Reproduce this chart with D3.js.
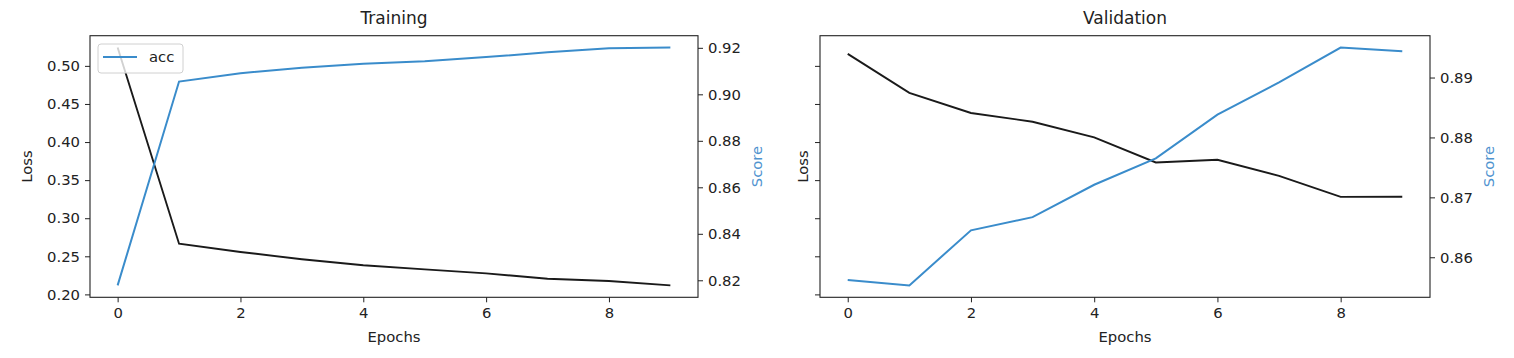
<!DOCTYPE html>
<html>
<head>
<meta charset="utf-8">
<script src="https://cdn.jsdelivr.net/npm/d3@7"></script>
<style>
  html, body { margin: 0; padding: 0; background: #fff; }
  svg text { font-family: "DejaVu Sans", sans-serif; fill: #222; }
</style>
</head>
<body>
<svg id="chart" width="1514" height="358"></svg>
<script>
// ---- data ----
const epochs = [0, 1, 2, 3, 4, 5, 6, 7, 8, 9];
const trainLoss = [0.524, 0.2666, 0.2557, 0.2461, 0.2382, 0.2329, 0.2276, 0.2205, 0.2175, 0.2118];
const trainAcc  = [0.8178, 0.9055, 0.9091, 0.9114, 0.9132, 0.9142, 0.9160, 0.9181, 0.9198, 0.9201];
const valLoss   = [0.5158, 0.4645, 0.4382, 0.4267, 0.4061, 0.3732, 0.3767, 0.3557, 0.3280, 0.3282];
const valAcc    = [0.8562, 0.8553, 0.8645, 0.8667, 0.8721, 0.8765, 0.8838, 0.8892, 0.8950, 0.8944];
const xTicks = [0, 2, 4, 6, 8];
const lossTicks = [0.20, 0.25, 0.30, 0.35, 0.40, 0.45, 0.50];
const trainScoreTicks = [0.82, 0.84, 0.86, 0.88, 0.90, 0.92];
const valScoreTicks = [0.86, 0.87, 0.88, 0.89];
const titles = ["Training", "Validation"];

(function () {
const BLUE = "#3a8ccb";
const SCORE_COLOR = "#4f93cf";
const svg = d3.select("#chart");

function pad(vals) {
  const [a, b] = d3.extent(vals);
  const r = b - a;
  return [a - 0.05 * r, b + 0.05 * r];
}

const plotTop = 35.7, plotBottom = 297.3;
const panels = [
  { left: 90, right: 698, title: titles[0], loss: trainLoss, acc: trainAcc, scoreTicks: trainScoreTicks, showLossLabels: true, legend: true, lossOff: 63 },
  { left: 820, right: 1430, title: titles[1], loss: valLoss, acc: valAcc, scoreTicks: valScoreTicks, showLossLabels: false, legend: false, lossOff: 17 }
];

const lossDomain = pad(trainLoss.concat(valLoss));
const FS = 14.8;

panels.forEach(p => {
  const g = svg.append("g");
  const x = d3.scaleLinear().domain([-0.45, 9.45]).range([p.left, p.right]);
  const yL = d3.scaleLinear().domain(lossDomain).range([plotBottom, plotTop]);
  const yR = d3.scaleLinear().domain(pad(p.acc)).range([plotBottom, plotTop]);

  const ax = g.append("g").attr("transform", `translate(0,${plotBottom})`)
    .call(d3.axisBottom(x).tickValues(xTicks).tickFormat(d3.format("d")).tickSize(5).tickPadding(5));
  const ayl = g.append("g").attr("transform", `translate(${p.left},0)`)
    .call(d3.axisLeft(yL).tickValues(lossTicks)
      .tickFormat(p.showLossLabels ? d3.format(".2f") : () => "").tickSize(5).tickPadding(5));
  const ayr = g.append("g").attr("transform", `translate(${p.right},0)`)
    .call(d3.axisRight(yR).tickValues(p.scoreTicks).tickFormat(d3.format(".2f")).tickSize(5).tickPadding(5));
  [ax, ayl, ayr].forEach(a => {
    a.select(".domain").remove();
    a.selectAll(".tick line").attr("stroke", "#222").attr("stroke-width", 1);
    a.selectAll(".tick text").style("font-size", FS + "px").attr("fill", "#222");
  });

  const lineL = d3.line().x((d, i) => x(epochs[i])).y(d => yL(d));
  const lineR = d3.line().x((d, i) => x(epochs[i])).y(d => yR(d));
  g.append("path").datum(p.loss).attr("d", lineL)
    .attr("fill", "none").attr("stroke", "#1a1a1a").attr("stroke-width", 1.9);
  g.append("path").datum(p.acc).attr("d", lineR)
    .attr("fill", "none").attr("stroke", BLUE).attr("stroke-width", 2);

  g.append("rect").attr("x", p.left).attr("y", plotTop)
    .attr("width", p.right - p.left).attr("height", plotBottom - plotTop)
    .attr("fill", "none").attr("stroke", "#222").attr("stroke-width", 1.1);

  const cx = (p.left + p.right) / 2;
  g.append("text").attr("x", cx).attr("y", 24).attr("text-anchor", "middle")
    .style("font-size", "17px").text(p.title);
  g.append("text").attr("x", cx).attr("y", 342).attr("text-anchor", "middle")
    .style("font-size", FS + "px").text("Epochs");
  g.append("text").attr("transform", `translate(${p.left - p.lossOff + 5},${(plotTop + plotBottom) / 2}) rotate(-90)`)
    .attr("text-anchor", "middle").style("font-size", FS + "px").text("Loss");
  g.append("text").attr("transform", `translate(${p.right + 64},${(plotTop + plotBottom) / 2}) rotate(-90)`)
    .attr("text-anchor", "middle").style("font-size", FS + "px").style("fill", SCORE_COLOR).text("Score");

  if (p.legend) {
    const lg = g.append("g");
    lg.append("rect").attr("x", 98).attr("y", 44).attr("width", 85).attr("height", 29).attr("rx", 3)
      .attr("fill", "white").attr("fill-opacity", 0.8).attr("stroke", "#d0d0d0");
    lg.append("line").attr("x1", 103).attr("x2", 137).attr("y1", 57).attr("y2", 57)
      .attr("stroke", BLUE).attr("stroke-width", 2);
    lg.append("text").attr("x", 149).attr("y", 62).style("font-size", FS + "px").text("acc");
  }
});
})();
</script>
</body>
</html>
